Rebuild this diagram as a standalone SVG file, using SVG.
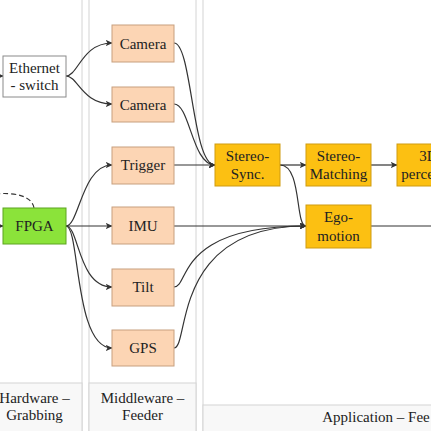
<svg xmlns="http://www.w3.org/2000/svg" width="431" height="431" viewBox="0 0 431 431">
<defs>
<marker id="arr" viewBox="0 0 10 10" refX="9" refY="5" markerWidth="7" markerHeight="7" markerUnits="userSpaceOnUse" orient="auto">
<path d="M0,0.5 L10,5 L0,9.5 L2.5,5 Z" fill="#333"/>
</marker>
<style>
text{font-family:"Liberation Serif","Times New Roman",serif;font-size:15px;fill:#222;text-anchor:middle}
.lane{fill:#fff;stroke:#d4d4d4;stroke-width:1}
.band{fill:#f8f8f8;stroke:#d4d4d4;stroke-width:1}
.white{fill:#fff;stroke:#8a8a8a;stroke-width:1}
.peach{fill:#fcd5b4;stroke:#c79f7f;stroke-width:1}
.green{fill:#8be33a;stroke:#5da421;stroke-width:1}
.yellow{fill:#fcc012;stroke:#cf9b10;stroke-width:1}
.c{fill:none;stroke:#333;stroke-width:1.2}
.a{marker-end:url(#arr)}
.d{stroke-dasharray:5,3}
</style>
</defs>
<g id="lanes">
<rect class="lane" x="-20" y="-10" width="102" height="460"/>
<rect class="band" x="-20" y="383" width="102" height="60"/>
<rect class="lane" x="89" y="-10" width="107" height="460"/>
<rect class="band" x="89" y="383" width="107" height="60"/>
<rect class="lane" x="203" y="-10" width="260" height="460"/>
<rect class="band" x="203" y="405" width="260" height="40"/>
<text x="34.5" y="403">Hardware –</text>
<text x="34.5" y="420">Grabbing</text>
<text x="142.5" y="403">Middleware –</text>
<text x="142.5" y="420">Feeder</text>
<text x="376" y="422">Application – Fee</text>
</g>
<g id="connectors">
<path class="c a" d="M-10,76 L3,76"/>
<path class="c a" d="M-10,226 L3,226"/>
<path class="c d" d="M-5,194 C15,192 32,196 34,208"/>
<path class="c a" d="M66,76 C78,76 82,43 112,43"/>
<path class="c a" d="M66,76 C78,76 82,104 112,104"/>
<path class="c a" d="M66,226 C79,226 82,165 112,165"/>
<path class="c a" d="M66,226 L112,226"/>
<path class="c a" d="M66,226 C79,226 78,287 112,287"/>
<path class="c a" d="M66,226 C80,226 74,348 112,348"/>
<path class="c a" d="M174,43 C192,43 192,165 215,165"/>
<path class="c a" d="M174,104 C190,104 192,165 215,165"/>
<path class="c a" d="M174,165 L215,165"/>
<path class="c a" d="M280,165 L306,165"/>
<path class="c a" d="M280,165 C302,165 295,226 306,226"/>
<path class="c a" d="M371,165 L397,165"/>
<path class="c a" d="M174,226 L306,226"/>
<path class="c a" d="M174,287 C190,287 175,226 306,226"/>
<path class="c a" d="M174,348 C190,348 170,226 306,226"/>
<path class="c" d="M371,226 L440,226"/>
</g>
<g id="ethernet"><rect class="white" x="3" y="56" width="63" height="41"/><text x="34.5" y="72.5">Ethernet</text><text x="34.5" y="90">- switch</text></g>
<g id="fpga"><rect class="green" x="3" y="208" width="63" height="36"/><text x="34.5" y="231">FPGA</text></g>
<g id="camera1"><rect class="peach" x="112" y="25" width="62" height="37"/><text x="143" y="49">Camera</text></g>
<g id="camera2"><rect class="peach" x="112" y="87" width="62" height="35"/><text x="143" y="110">Camera</text></g>
<g id="trigger"><rect class="peach" x="112" y="147" width="62" height="37"/><text x="143" y="170">Trigger</text></g>
<g id="imu"><rect class="peach" x="112" y="207" width="62" height="37"/><text x="143" y="231">IMU</text></g>
<g id="tilt"><rect class="peach" x="112" y="269" width="62" height="37"/><text x="143" y="292">Tilt</text></g>
<g id="gps"><rect class="peach" x="112" y="330" width="62" height="36"/><text x="143" y="353">GPS</text></g>
<g id="stereosync"><rect class="yellow" x="215" y="144" width="65" height="42"/><text x="247.5" y="161">Stereo-</text><text x="247.5" y="179">Sync.</text></g>
<g id="stereomatching"><rect class="yellow" x="306" y="144" width="65" height="42"/><text x="338.5" y="161">Stereo-</text><text x="338.5" y="179">Matching</text></g>
<g id="perception"><rect class="yellow" x="397" y="144" width="65" height="42"/><text x="431" y="161">3D-</text><text x="433" y="179">perception</text></g>
<g id="egomotion"><rect class="yellow" x="306" y="205" width="65" height="43"/><text x="338.5" y="222">Ego-</text><text x="338.5" y="241">motion</text></g>
</svg>
